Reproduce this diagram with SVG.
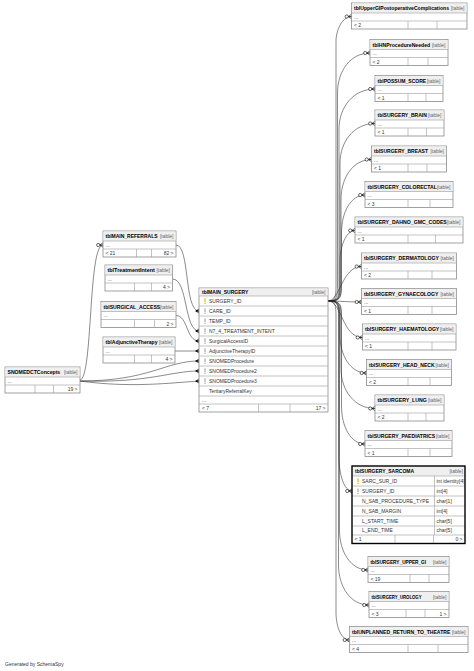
<svg xmlns="http://www.w3.org/2000/svg" xmlns:xlink="http://www.w3.org/1999/xlink" width="474" height="671" viewBox="0 0 474 671">
<style>
text{font-family:"Liberation Sans",Arial,sans-serif;font-size:5px;fill:#333}
.t{font-weight:bold;fill:#000}
.g{fill:#666}
.r{text-anchor:end}
.box{fill:#fff;stroke:#8a8a8a;stroke-width:0.8}
.hd{fill:#efefef}
.ln{fill:none;stroke:#9a9a9a;stroke-width:0.6}
.c{fill:none;stroke:#2a2a2a;stroke-width:0.55}
.co{marker-end:url(#crowodot)}
.cr{marker-end:url(#crow)}
</style>
<defs>
<marker id="crowodot" markerUnits="userSpaceOnUse" markerWidth="12" markerHeight="10" refX="10" refY="5" orient="auto" overflow="visible">
<path d="M6.8,5 L10,2.8 M6.8,5 L10,5 M6.8,5 L10,7.2" fill="none" stroke="#000" stroke-width="0.6"/>
<circle cx="5.2" cy="5" r="1.6" fill="#fff" stroke="#000" stroke-width="0.6"/>
</marker>
<marker id="crow" markerUnits="userSpaceOnUse" markerWidth="12" markerHeight="10" refX="10" refY="5" orient="auto" overflow="visible">
<path d="M6.8,5 L10,2.9 M6.8,5 L10,5 M6.8,5 L10,7.1 M6.8,5 L10,4 M6.8,5 L10,6" fill="none" stroke="#000" stroke-width="0.6"/>
</marker>
<g id="key"><rect x="0" y="0" width="1.4" height="3.6"/><rect x="0" y="4.3" width="1.4" height="1.3"/></g>
</defs>
<rect width="474" height="671" fill="#fff"/>

<g id="connectors">
<path class="c co" d="M328,301 C334,301 336,299 336,286 L336,41.5 C336,30.25 342.2,16.5 351.5,16.5"/>
<path class="c co" d="M328,301 C335.5,301 337.5,299 337.5,286 L337.5,93 C337.5,71 350.5,53 370,53"/>
<path class="c co" d="M328,301 C337,301 339,299 339,286 L339,129 C339,107 353.4,89 375,89"/>
<path class="c co" d="M328,301 C338,301 340,299 340,286 L340,163.5 C340,141.5 354,123.5 375,123.5"/>
<path class="c co" d="M328,301 C339,301 341,299 341,286 L341,199.5 C341,177.5 353.2,159.5 371.5,159.5"/>
<path class="c co" d="M328,301 C339.5,301 341.5,299 341.5,286 L341.5,233 C341.5,212.1 350.9,195 365,195"/>
<path class="c co" d="M328,301 C338,301 340,299 340,286 L340,260.5 C340,247 346,230.5 355,230.5"/>
<path class="c co" d="M328,301 C340,301 342,266.5 361.5,266.5"/>
<path class="c co" d="M328,301 C340,301 348,302 361.5,302"/>
<path class="c co" d="M328,301 C342,301 342,337.5 362.5,337.5"/>
<path class="c co" d="M328,301 C338,301 340,303 340,316 L340,335 C340,355.9 350.6,373 366.5,373"/>
<path class="c co" d="M328,301 C339,301 341,303 341,316 L341,368.5 C341,390.5 354.6,408.5 375,408.5"/>
<path class="c co" d="M328,301 C339.5,301 341.5,303 341.5,316 L341.5,406 C341.5,426.9 350.9,444 365,444"/>
<path class="c co" d="M328,301 C337,301 339,303 339,316 L339,456 C339,475.3 344.2,491 352,491"/>
<path class="c co" d="M328,301 C337.5,301 339.5,303 339.5,316 L339.5,530 C339.5,552 350.9,570 368,570"/>
<path class="c co" d="M328,301 C336.5,301 338.5,303 338.5,316 L338.5,565 C338.5,587 350.7,605 369,605"/>
<path class="c co" d="M328,301 C334,301 336,303 336,316 L336,612 C336,627.4 341.4,640 349.5,640"/>
<path class="c cr" d="M176,245 C190,245 184,311 199,311"/>
<path class="c cr" d="M172.5,279 C188,279 184,331 199,331"/>
<path class="c cr" d="M176,315.5 C188,315.5 186,341 199,341"/>
<path class="c cr" d="M175,351 C185,351 189,351 199,351"/>
<path class="c cr" d="M80,381 C150,381 165,361 199,361"/>
<path class="c cr" d="M80,381 C150,383 170,371 199,371"/>
<path class="c cr" d="M80,381 C130,388 170,383 199,381"/>
<path class="c co" d="M80,380 C93,378 88,245 103,245"/>
</g>

<g id="tblUpperGIPostoperativeComplications">
<rect class="box" x="351.5" y="3" width="115.5" height="26"/>
<rect class="hd" x="351.9" y="3.4" width="114.7" height="9.6"/>
<path class="ln" d="M351.5,13H467 M351.5,21H467 M408,21V29 M437,21V29"/>
<text class="t" x="354" y="10.3" textLength="95" lengthAdjust="spacingAndGlyphs">tblUpperGIPostoperativeComplications</text>
<text class="g r" x="464.5" y="10.3">[table]</text>
<text x="354" y="18.6">...</text>
<text x="354" y="27">&lt; 2</text>
</g>

<g id="tblHNProcedureNeeded">
<rect class="box" x="370" y="39.5" width="78" height="26"/>
<rect class="hd" x="370.4" y="39.9" width="77.2" height="9.6"/>
<path class="ln" d="M370,49.5H448 M370,57.5H448 M408,57.5V65.5 M428,57.5V65.5"/>
<text class="t" x="372.5" y="46.8" textLength="57.7" lengthAdjust="spacingAndGlyphs">tblHNProcedureNeeded</text>
<text class="g r" x="445.5" y="46.8">[table]</text>
<text x="372.5" y="55.1">...</text>
<text x="372.5" y="63.5">&lt; 2</text>
</g>

<g id="tblPOSSUM_SCORE">
<rect class="box" x="375" y="75.5" width="68" height="26"/>
<rect class="hd" x="375.4" y="75.9" width="67.2" height="9.6"/>
<path class="ln" d="M375,85.5H443 M375,93.5H443 M408,93.5V101.5 M426,93.5V101.5"/>
<text class="t" x="377.5" y="82.8" textLength="48.7" lengthAdjust="spacingAndGlyphs">tblPOSSUM_SCORE</text>
<text class="g r" x="440.5" y="82.8">[table]</text>
<text x="377.5" y="91.1">...</text>
<text x="377.5" y="99.5">&lt; 1</text>
</g>

<g id="tblSURGERY_BRAIN">
<rect class="box" x="375" y="110" width="69" height="26"/>
<rect class="hd" x="375.4" y="110.4" width="68.2" height="9.6"/>
<path class="ln" d="M375,120H444 M375,128H444 M408,128V136 M426.5,128V136"/>
<text class="t" x="377.5" y="117.3" textLength="49.3" lengthAdjust="spacingAndGlyphs">tblSURGERY_BRAIN</text>
<text class="g r" x="441.5" y="117.3">[table]</text>
<text x="377.5" y="125.6">...</text>
<text x="377.5" y="134">&lt; 1</text>
</g>

<g id="tblSURGERY_BREAST">
<rect class="box" x="371.5" y="146" width="75" height="26"/>
<rect class="hd" x="371.9" y="146.4" width="74.2" height="9.6"/>
<path class="ln" d="M371.5,156H446.5 M371.5,164H446.5 M408,164V172 M427,164V172"/>
<text class="t" x="374" y="153.3" textLength="54" lengthAdjust="spacingAndGlyphs">tblSURGERY_BREAST</text>
<text class="g r" x="444" y="153.3">[table]</text>
<text x="374" y="161.6">...</text>
<text x="374" y="170">&lt; 1</text>
</g>

<g id="tblSURGERY_COLORECTAL">
<rect class="box" x="365" y="181.5" width="88" height="26"/>
<rect class="hd" x="365.4" y="181.9" width="87.2" height="9.6"/>
<path class="ln" d="M365,191.5H453 M365,199.5H453 M408,199.5V207.5 M430,199.5V207.5"/>
<text class="t" x="367.5" y="188.8" textLength="69.3" lengthAdjust="spacingAndGlyphs">tblSURGERY_COLORECTAL</text>
<text class="g r" x="450.5" y="188.8">[table]</text>
<text x="367.5" y="197.1">...</text>
<text x="367.5" y="205.5">&lt; 3</text>
</g>

<g id="tblSURGERY_DAHNO_GMC_CODES">
<rect class="box" x="355" y="217" width="108" height="26"/>
<rect class="hd" x="355.4" y="217.4" width="107.2" height="9.6"/>
<path class="ln" d="M355,227H463 M355,235H463 M408,235V243 M435.5,235V243"/>
<text class="t" x="357.5" y="224.3" textLength="89.3" lengthAdjust="spacingAndGlyphs">tblSURGERY_DAHNO_GMC_CODES</text>
<text class="g r" x="460.5" y="224.3">[table]</text>
<text x="357.5" y="232.6">...</text>
<text x="357.5" y="241">&lt; 1</text>
</g>

<g id="tblSURGERY_DERMATOLOGY">
<rect class="box" x="361.5" y="253" width="95" height="26"/>
<rect class="hd" x="361.9" y="253.4" width="94.2" height="9.6"/>
<path class="ln" d="M361.5,263H456.5 M361.5,271H456.5 M408,271V279 M432,271V279"/>
<text class="t" x="364" y="260.3" textLength="75" lengthAdjust="spacingAndGlyphs">tblSURGERY_DERMATOLOGY</text>
<text class="g r" x="454" y="260.3">[table]</text>
<text x="364" y="268.6">...</text>
<text x="364" y="277">&lt; 2</text>
</g>

<g id="tblSURGERY_GYNAECOLOGY">
<rect class="box" x="361.5" y="288.5" width="95" height="26"/>
<rect class="hd" x="361.9" y="288.9" width="94.2" height="9.6"/>
<path class="ln" d="M361.5,298.5H456.5 M361.5,306.5H456.5 M408,306.5V314.5 M432,306.5V314.5"/>
<text class="t" x="364" y="295.8" textLength="74.3" lengthAdjust="spacingAndGlyphs">tblSURGERY_GYNAECOLOGY</text>
<text class="g r" x="454" y="295.8">[table]</text>
<text x="364" y="304.1">...</text>
<text x="364" y="312.5">&lt; 1</text>
</g>

<g id="tblSURGERY_HAEMATOLOGY">
<rect class="box" x="362.5" y="324" width="93.5" height="26"/>
<rect class="hd" x="362.9" y="324.4" width="92.7" height="9.6"/>
<path class="ln" d="M362.5,334H456 M362.5,342H456 M408,342V350 M432,342V350"/>
<text class="t" x="365" y="331.3" textLength="74.3" lengthAdjust="spacingAndGlyphs">tblSURGERY_HAEMATOLOGY</text>
<text class="g r" x="453.5" y="331.3">[table]</text>
<text x="365" y="339.6">...</text>
<text x="365" y="348">&lt; 1</text>
</g>

<g id="tblSURGERY_HEAD_NECK">
<rect class="box" x="366.5" y="359.5" width="85" height="26"/>
<rect class="hd" x="366.9" y="359.9" width="84.2" height="9.6"/>
<path class="ln" d="M366.5,369.5H451.5 M366.5,377.5H451.5 M408,377.5V385.5 M430,377.5V385.5"/>
<text class="t" x="369" y="366.8" textLength="65.7" lengthAdjust="spacingAndGlyphs">tblSURGERY_HEAD_NECK</text>
<text class="g r" x="449" y="366.8">[table]</text>
<text x="369" y="375.1">...</text>
<text x="369" y="383.5">&lt; 2</text>
</g>

<g id="tblSURGERY_LUNG">
<rect class="box" x="375" y="395" width="69" height="26"/>
<rect class="hd" x="375.4" y="395.4" width="68.2" height="9.6"/>
<path class="ln" d="M375,405H444 M375,413H444 M408,413V421 M426,413V421"/>
<text class="t" x="377.5" y="402.3" textLength="49.3" lengthAdjust="spacingAndGlyphs">tblSURGERY_LUNG</text>
<text class="g r" x="441.5" y="402.3">[table]</text>
<text x="377.5" y="410.6">...</text>
<text x="377.5" y="419">&lt; 2</text>
</g>

<g id="tblSURGERY_PAEDIATRICS">
<rect class="box" x="365" y="430.5" width="87" height="26"/>
<rect class="hd" x="365.4" y="430.9" width="86.2" height="9.6"/>
<path class="ln" d="M365,440.5H452 M365,448.5H452 M408,448.5V456.5 M430,448.5V456.5"/>
<text class="t" x="367.5" y="437.8" textLength="67.6" lengthAdjust="spacingAndGlyphs">tblSURGERY_PAEDIATRICS</text>
<text class="g r" x="449.5" y="437.8">[table]</text>
<text x="367.5" y="446.1">...</text>
<text x="367.5" y="454.5">&lt; 1</text>
</g>

<g id="tblSURGERY_SARCOMA">
<rect x="352" y="466" width="113" height="77.5" fill="#fff"/>
<rect class="hd" x="352" y="466" width="113" height="10"/>
<path class="ln" d="M352,476H465 M352,486H465 M352,496H465 M352,506H465 M352,516H465 M352,526H465 M352,535H465 M434.5,476V535 M395,535V543.5 M433.5,535V543.5"/>
<rect x="352" y="466" width="113" height="77.5" fill="none" stroke="#000" stroke-width="1.4"/>
<text class="t" x="355" y="473.3" textLength="59" lengthAdjust="spacingAndGlyphs">tblSURGERY_SARCOMA</text>
<text class="g r" x="463" y="473.3">[table]</text>
<use xlink:href="#key" x="357.3" y="478.5" fill="#e3c41a"/>
<use xlink:href="#key" x="357.3" y="488.5" fill="#b5b5b5"/>
<text x="362" y="482.8">SARC_SUR_ID</text>
<text x="362" y="492.8">SURGERY_ID</text>
<text x="362" y="502.8">N_SAB_PROCEDURE_TYPE</text>
<text x="362" y="512.8">N_SAB_MARGIN</text>
<text x="362" y="522.8">L_START_TIME</text>
<text x="362" y="532.3">L_END_TIME</text>
<text x="436.5" y="482.8">int identity[4]</text>
<text x="436.5" y="492.8">int[4]</text>
<text x="436.5" y="502.8">char[1]</text>
<text x="436.5" y="512.8">int[4]</text>
<text x="436.5" y="522.8">char[5]</text>
<text x="436.5" y="532.3">char[5]</text>
<text x="354.5" y="541">&lt; 1</text>
<text class="r" x="462.5" y="541">0 &gt;</text>
</g>

<g id="tblSURGERY_UPPER_GI">
<rect class="box" x="368" y="556.5" width="81" height="26"/>
<rect class="hd" x="368.4" y="556.9" width="80.2" height="9.6"/>
<path class="ln" d="M368,566.5H449 M368,574.5H449 M410,574.5V582.5 M429,574.5V582.5"/>
<text class="t" x="370.5" y="563.8" textLength="55.6" lengthAdjust="spacingAndGlyphs">tblSURGERY_UPPER_GI</text>
<text class="g r" x="446.5" y="563.8">[table]</text>
<text x="370.5" y="572.1">...</text>
<text x="370.5" y="580.5">&lt; 19</text>
</g>

<g id="tblSURGERY_UROLOGY">
<rect class="box" x="369" y="591.5" width="80" height="26"/>
<rect class="hd" x="369.4" y="591.9" width="79.2" height="9.6"/>
<path class="ln" d="M369,601.5H449 M369,609.5H449 M406,609.5V617.5 M425,609.5V617.5"/>
<text class="t" x="371.5" y="598.8" textLength="50" lengthAdjust="spacingAndGlyphs">tblSURGERY_UROLOGY</text>
<text class="g r" x="446.5" y="598.8">[table]</text>
<text x="371.5" y="607.1">...</text>
<text x="371.5" y="615.5">&lt; 3</text>
<text class="r" x="446.5" y="615.5">1 &gt;</text>
</g>

<g id="tblUNPLANNED_RETURN_TO_THEATRE">
<rect class="box" x="349.5" y="626.5" width="118.5" height="26"/>
<rect class="hd" x="349.9" y="626.9" width="117.7" height="9.6"/>
<path class="ln" d="M349.5,636.5H468 M349.5,644.5H468 M408,644.5V652.5 M438,644.5V652.5"/>
<text class="t" x="352" y="633.8" textLength="98.3" lengthAdjust="spacingAndGlyphs">tblUNPLANNED_RETURN_TO_THEATRE</text>
<text class="g r" x="465.5" y="633.8">[table]</text>
<text x="352" y="642.1">...</text>
<text x="352" y="650.5">&lt; 4</text>
</g>

<g id="tblMAIN_SURGERY">
<rect class="box" x="199" y="288" width="129" height="124"/>
<rect class="hd" x="199.4" y="288.4" width="128.2" height="7.6"/>
<path class="ln" d="M199,296H328 M199,306H328 M199,316H328 M199,326H328 M199,336H328 M199,346H328 M199,356H328 M199,366H328 M199,376H328 M199,386H328 M199,396H328 M199,404H328 M258.5,404V412 M290,404V412"/>
<text class="t" x="202" y="293.8" textLength="46.3" lengthAdjust="spacingAndGlyphs">tblMAIN_SURGERY</text>
<text class="g r" x="325.5" y="293.8">[table]</text>
<use xlink:href="#key" x="204.3" y="298.4" fill="#e3c41a"/>
<use xlink:href="#key" x="204.3" y="308.4" fill="#b5b5b5"/>
<use xlink:href="#key" x="204.3" y="318.4" fill="#b5b5b5"/>
<use xlink:href="#key" x="204.3" y="328.4" fill="#b5b5b5"/>
<use xlink:href="#key" x="204.3" y="338.4" fill="#b5b5b5"/>
<use xlink:href="#key" x="204.3" y="348.4" fill="#b5b5b5"/>
<use xlink:href="#key" x="204.3" y="358.4" fill="#b5b5b5"/>
<use xlink:href="#key" x="204.3" y="368.4" fill="#b5b5b5"/>
<use xlink:href="#key" x="204.3" y="378.4" fill="#b5b5b5"/>
<text x="209" y="302.8">SURGERY_ID</text>
<text x="209" y="312.8">CARE_ID</text>
<text x="209" y="322.8">TEMP_ID</text>
<text x="209" y="332.8">N7_4_TREATMENT_INTENT</text>
<text x="209" y="342.8">SurgicalAccessID</text>
<text x="209" y="352.8">AdjunctiveTherapyID</text>
<text x="209" y="362.8">SNOMEDProcedure</text>
<text x="209" y="372.8">SNOMEDProcedure2</text>
<text x="209" y="382.8">SNOMEDProcedure3</text>
<text x="209" y="392.8">TertiaryReferralKey</text>
<text x="202" y="401.5">...</text>
<text x="202" y="409.8">&lt; 7</text>
<text class="r" x="325.5" y="409.8">17 &gt;</text>
</g>

<g id="tblMAIN_REFERRALS">
<rect class="box" x="103" y="231" width="73" height="26"/>
<rect class="hd" x="103.4" y="231.4" width="72.2" height="9.6"/>
<path class="ln" d="M103,241H176 M103,249H176 M136.5,249V257 M151.5,249V257"/>
<text class="t" x="105.5" y="238.3" textLength="52" lengthAdjust="spacingAndGlyphs">tblMAIN_REFERRALS</text>
<text class="g r" x="173.5" y="238.3">[table]</text>
<text x="105.5" y="246.6">...</text>
<text x="105.5" y="255">&lt; 21</text>
<text class="r" x="173.5" y="255">82 &gt;</text>
</g>

<g id="tblTreatmentIntent">
<rect class="box" x="105" y="265" width="67.5" height="26"/>
<rect class="hd" x="105.4" y="265.4" width="66.7" height="9.6"/>
<path class="ln" d="M105,275H172.5 M105,283H172.5 M134.5,283V291 M151.5,283V291"/>
<text class="t" x="107.5" y="272.3" textLength="47.3" lengthAdjust="spacingAndGlyphs">tblTreatmentIntent</text>
<text class="g r" x="170" y="272.3">[table]</text>
<text x="107.5" y="280.6">...</text>
<text class="r" x="170" y="289">4 &gt;</text>
</g>

<g id="tblSURGICAL_ACCESS">
<rect class="box" x="101" y="301.5" width="75" height="26"/>
<rect class="hd" x="101.4" y="301.9" width="74.2" height="9.6"/>
<path class="ln" d="M101,311.5H176 M101,319.5H176 M134.5,319.5V327.5 M154.5,319.5V327.5"/>
<text class="t" x="103.5" y="308.8" textLength="56.7" lengthAdjust="spacingAndGlyphs">tblSURGICAL_ACCESS</text>
<text class="g r" x="173.5" y="308.8">[table]</text>
<text x="103.5" y="317.1">...</text>
<text class="r" x="173.5" y="325.5">2 &gt;</text>
</g>

<g id="tblAdjunctiveTherapy">
<rect class="box" x="103" y="337" width="72" height="26"/>
<rect class="hd" x="103.4" y="337.4" width="71.2" height="9.6"/>
<path class="ln" d="M103,347H175 M103,355H175 M134.5,355V363 M151.5,355V363"/>
<text class="t" x="105.5" y="344.3" textLength="52" lengthAdjust="spacingAndGlyphs">tblAdjunctiveTherapy</text>
<text class="g r" x="172.5" y="344.3">[table]</text>
<text x="105.5" y="352.6">...</text>
<text class="r" x="172.5" y="361">4 &gt;</text>
</g>

<g id="SNOMEDCTConcepts">
<rect class="box" x="5" y="367" width="75" height="26"/>
<rect class="hd" x="5.4" y="367.4" width="74.2" height="9.6"/>
<path class="ln" d="M5,377H80 M5,385H80 M35,385V393 M53.5,385V393"/>
<text class="t" x="7.5" y="374.3" textLength="52.7" lengthAdjust="spacingAndGlyphs">SNOMEDCTConcepts</text>
<text class="g r" x="77.5" y="374.3">[table]</text>
<text x="7.5" y="382.6">...</text>
<text class="r" x="77.5" y="391">19 &gt;</text>
</g>

<text x="5" y="666">Generated by SchemaSpy</text>
</svg>
